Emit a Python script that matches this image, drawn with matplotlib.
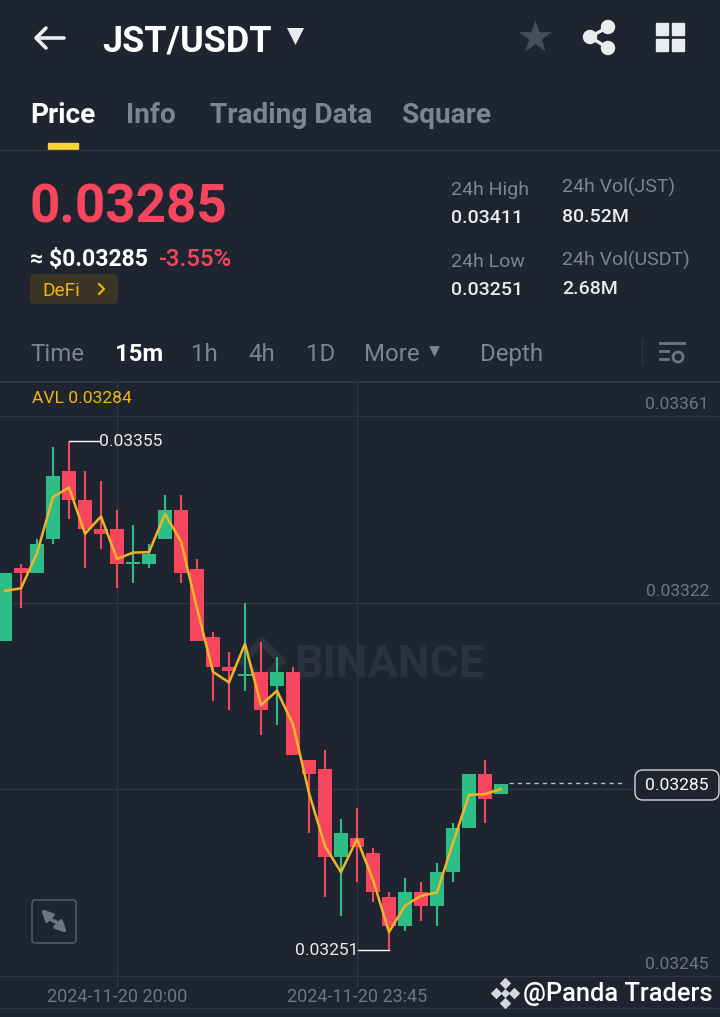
import matplotlib
matplotlib.use('Agg')
import matplotlib.pyplot as plt
from matplotlib.patches import FancyBboxPatch, Rectangle, Circle

BG = '#1e2530'
GRID = '#2f3641'
GREEN = '#2ebd85'
RED = '#f6465d'
YELLOW = '#f0b90b'
AVL_COL = '#f0b429'
GREY = '#7a8494'
DIM = '#6c7583'
FONT = ['Roboto', 'DejaVu Sans']

# candles
opens = [0.033143, 0.033295, 0.033284, 0.033355, 0.033496, 0.033436, 0.033375, 0.033375,
         0.033304, 0.033304, 0.033355, 0.033415, 0.033294, 0.033152, 0.033091, 0.033071,
         0.033080, 0.033051, 0.033080, 0.032898, 0.032878, 0.032696, 0.032736, 0.032705,
         0.032614, 0.032554, 0.032624, 0.032594, 0.032665, 0.032756, 0.032868, 0.032828]
highs = [0.033284, 0.033303, 0.033355, 0.033546, 0.033557, 0.033496, 0.033476, 0.033415,
         0.033384, 0.033344, 0.033446, 0.033446, 0.033314, 0.033163, 0.033121, 0.033223,
         0.033141, 0.033111, 0.033091, 0.032898, 0.032918, 0.032776, 0.032797, 0.032716,
         0.032624, 0.032654, 0.032644, 0.032685, 0.032766, 0.032868, 0.032898, 0.032848]
lows = [0.033143, 0.033213, 0.033284, 0.033345, 0.033396, 0.033295, 0.033335, 0.033254,
        0.033264, 0.033295, 0.033355, 0.033264, 0.033143, 0.033020, 0.033000, 0.033041,
        0.032949, 0.032970, 0.032908, 0.032747, 0.032614, 0.032574, 0.032645, 0.032604,
        0.032502, 0.032544, 0.032564, 0.032554, 0.032645, 0.032756, 0.032766, 0.032828]
closes = [0.033284, 0.033284, 0.033344, 0.033486, 0.033436, 0.033375, 0.033365, 0.033304,
          0.033308, 0.033324, 0.033415, 0.033284, 0.033143, 0.033091, 0.033081, 0.033075,
          0.033000, 0.033080, 0.032908, 0.032868, 0.032696, 0.032746, 0.032717, 0.032625,
          0.032554, 0.032624, 0.032594, 0.032665, 0.032756, 0.032868, 0.032817, 0.032848]
avl = [0.033248, 0.033253, 0.033326, 0.033442, 0.033462, 0.033366, 0.033402, 0.033314,
       0.033327, 0.033328, 0.033407, 0.033350, 0.033212, 0.033080, 0.033058, 0.033138,
       0.033011, 0.033041, 0.032971, 0.032829, 0.032719, 0.032665, 0.032734, 0.032649,
       0.032541, 0.032596, 0.032616, 0.032623, 0.032726, 0.032825, 0.032827, 0.032837]

price_ticks = [0.03361, 0.0332233, 0.0328367, 0.03245]
price_labels = ['0.03361', '0.03322', '', '0.03245']
time_ticks = [7, 22]
time_labels = ['2024-11-20 20:00', '2024-11-20 23:45']
last_price = 0.03285

tabs = [('Price', 30, 'white', 'bold'), ('Info', 126, GREY, 'bold'),
        ('Trading Data', 210, GREY, 'bold'), ('Square', 402, GREY, 'bold')]
periods = [('Time', 30, GREY, 'normal'), ('15m', 115, 'white', 'bold'), ('1h', 191, GREY, 'normal'),
           ('4h', 248, GREY, 'normal'), ('1D', 306, GREY, 'normal'), ('More', 364, GREY, 'normal'),
           ('Depth', 480, GREY, 'normal')]
stats = [('24h High', 451, 188, GREY, 'normal'), ('0.03411', 451, 216, '#eaecef', 'medium'),
         ('24h Vol(JST)', 562, 186, GREY, 'normal'), ('80.52M', 562, 215, '#eaecef', 'medium'),
         ('24h Low', 451, 260, GREY, 'normal'), ('0.03251', 451, 288, '#eaecef', 'medium'),
         ('24h Vol(USDT)', 562, 259, GREY, 'normal'), ('2.68M', 562, 287, '#eaecef', 'medium')]

W, H = 720, 1017
fig = plt.figure(figsize=(W / 100, H / 100), dpi=100, facecolor=BG)

# whole page in pixel coordinates, for the app's header around the chart
ui = fig.add_axes([0, 0, 1, 1], zorder=0)
ui.set_xlim(0, W)
ui.set_ylim(H, 0)
ui.axis('off')


def label(x, y, s, px, color, weight='normal', ha='left', on=ui):
    # va center sits a little high with this font, so nudge by the size
    on.text(x, y + px * 0.08, s, fontsize=px * 0.72, color=color, fontweight=weight, ha=ha, va='center',
            family=FONT, transform=ui.transData, clip_on=False, zorder=6)


# top bar
ui.plot([37, 64], [38, 38], color='#eaecef', lw=2.6, solid_capstyle='round')
ui.plot([46, 36, 46], [28, 38, 48], color='#eaecef', lw=2.6, solid_capstyle='round', solid_joinstyle='round')
label(102, 39, 'JST/USDT', 36, 'white', 'bold')
ui.scatter([295], [36], marker='v', s=150, color='#eaecef', linewidths=0)
ui.scatter([535], [37], marker='*', s=620, color='#474d5b', linewidths=0)
for yy in (27, 48):
    ui.plot([590, 608], [37, yy], color='#eaecef', lw=2.4)
    ui.add_patch(Circle((608, yy), 6.5, color='#eaecef'))
ui.add_patch(Circle((590, 37), 6.5, color='#eaecef'))
for xx in (656, 672):
    for yy in (23, 39):
        ui.add_patch(Rectangle((xx, yy), 12, 12, color='#eaecef'))

for name, x, col, w in tabs:
    label(x, 113, name, 28, col, w)
ui.add_patch(Rectangle((48, 143), 30, 6, color='#fcd535'))
ui.plot([0, W], [149.5, 149.5], color=GRID, lw=1)

# price block
label(30, 204, '0.03285', 53, RED, 'bold')
label(30, 258, '≈ $0.03285', 23, 'white', 'bold')
label(158, 258, '-3.55%', 24, RED, 'medium')
ui.add_patch(FancyBboxPatch((34, 278), 80, 22, boxstyle='round,pad=4,rounding_size=5',
                            fc='#3a3524', ec='none'))
label(42, 289, 'DeFi', 19, YELLOW)
ui.plot([99, 104, 99], [284, 289, 294], color=YELLOW, lw=1.5)
for name, x, y, col, w in stats:
    label(x, y, name, 19.5, col, w)

# period row
for name, x, col, w in periods:
    label(x, 353, name, 24, col, w)
ui.scatter([434], [351], marker='v', s=60, color=GREY, linewidths=0)
ui.plot([642, 642], [339, 364], color=GRID, lw=1)
for yy, x1 in ((343, 684), (351, 668), (359, 668)):
    ui.plot([660, x1], [yy, yy], color=DIM, lw=2)
ui.add_patch(Circle((678, 357), 5, fc='none', ec=DIM, lw=2))
ui.plot([0, W], [382, 382], color=GRID, lw=1.5)
ui.plot([0, W], [1008, 1008], color=GRID, lw=1)

# faint logo behind the candles
label(294, 661, 'BINANCE', 45, '#2b323d', 'bold')
ui.scatter([262], [661], marker='D', s=400, color='none', edgecolors='#2b323d', linewidths=6)

# the chart itself, from the pixel rows of the price gridlines
top_px, bottom_px = 382, 987
ax = fig.add_axes([0, 1 - bottom_px / H, 1, (bottom_px - top_px) / H], zorder=1)
ax.patch.set_alpha(0)
per_px = (0.03361 - 0.03245) / (976 - 416)
ax.set_ylim(0.03245 - (bottom_px - 976) * per_px, 0.03361 + (416 - top_px) * per_px)
ax.set_xlim(-5 / 16, (W - 5) / 16)
for s in ax.spines.values():
    s.set_visible(False)
ax.set_yticks(price_ticks)
ax.set_yticklabels([])
ax.set_xticks(time_ticks)
ax.set_xticklabels(time_labels, fontsize=13, color=DIM, family=FONT)
ax.tick_params(length=0)
ax.tick_params(axis='x', pad=1)
ax.grid(True, color=GRID, lw=1)
ax.set_axisbelow(True)

idx = list(range(len(opens)))
colors = [GREEN if c >= o else RED for o, c in zip(opens, closes)]
ax.vlines(idx, lows, highs, colors=colors, lw=1.5, zorder=2)
ax.bar(idx, [abs(c - o) for o, c in zip(opens, closes)], bottom=[min(o, c) for o, c in zip(opens, closes)],
       width=0.875, color=colors, linewidth=0, zorder=3)
ax.plot(idx, avl, color=AVL_COL, lw=1.8, zorder=4)
ax.hlines(last_price, 31.5, 38.75, colors='#b7bdc6', lw=1, linestyles=(0, (3, 3)), zorder=2)

for tick, text in zip(price_ticks, price_labels):
    if text:
        y_px = 416 + (0.03361 - tick) / per_px
        label(709, y_px - 13, text, 17.5, DIM, ha='right', on=ax)

label(32, 397, 'AVL 0.03284', 17.5, YELLOW, on=ax)

# high and low markers
extremes = [(69, 99, 441, '0.03355', 99, 'left'), (358, 389, 950, '0.03251', 358, 'right')]
for x0, x1, y, text, tx, ha in extremes:
    ax.plot([x0, x1], [y, y], color='white', lw=1, transform=ui.transData, clip_on=False, zorder=5)
    label(tx, y - 1, text, 17.5, '#eaecef', ha=ha, on=ax)

# last price pill
ax.add_patch(FancyBboxPatch((640, 775), 74, 20, boxstyle='round,pad=5,rounding_size=8', fc=BG,
                            ec='#d5d8dc', lw=1, transform=ui.transData, clip_on=False, zorder=5))
label(677, 784, '0.03285', 17.5, 'white', ha='center', on=ax)

# expand button
ax.add_patch(FancyBboxPatch((35, 903), 38, 37, boxstyle='round,pad=3,rounding_size=3', fc='none',
                            ec='#5a6270', lw=1, transform=ui.transData, clip_on=False, zorder=5))
for start, end in (((53, 921), (41, 909)), ((55, 921), (67, 933))):
    ax.annotate('', xy=end, xytext=start, xycoords=ui.transData, textcoords=ui.transData,
                arrowprops=dict(arrowstyle='-|>', color=DIM, lw=2.5, mutation_scale=16, shrinkA=0, shrinkB=0),
                zorder=5)

# credit in the corner
label(523, 992, '@Panda Traders', 25.5, 'white', 'medium')
for xx, yy in ((505, 983), (496, 993), (514, 993), (505, 1003)):
    ui.scatter([xx], [yy], marker='D', s=34, color='#d5d8dc', linewidths=0, zorder=6)
ui.scatter([505], [993], marker='D', s=22, color='#d5d8dc', linewidths=0, zorder=6)

fig.savefig('out.png', dpi=100, facecolor=BG)
